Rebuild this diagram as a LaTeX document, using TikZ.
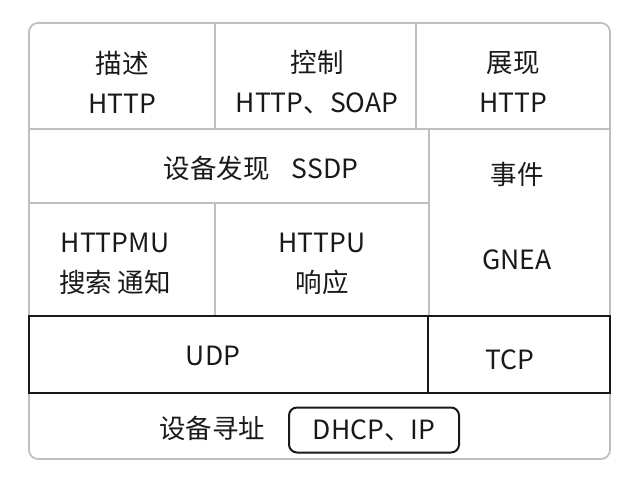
\documentclass[tikz,border=0pt]{standalone}
\usepackage{fontspec}
\setmainfont{Noto Sans CJK SC}
\begin{document}
\begin{tikzpicture}[x=1pt,y=-1pt,
  grayline/.style={draw=black!25,line width=1.8pt},
  blackline/.style={draw=black!90,line width=2.2pt},
  lbl/.style={font=\fontsize{26.5}{40}\selectfont,text=black!90,align=center,inner sep=0pt}]
\useasboundingbox (0,0) rectangle (628,477);
% outer gray frame and grid
\draw[grayline,rounded corners=9pt] (29,23) rectangle (610,459);
\draw[grayline] (29,129) -- (610,129);
\draw[grayline] (215,23) -- (215,129);
\draw[grayline] (416,23) -- (416,129);
\draw[grayline] (29,203) -- (429,203);
\draw[grayline] (429,129) -- (429,316);
\draw[grayline] (215,203) -- (215,316);
% UDP / TCP black box
\draw[blackline] (29,316) rectangle (610,393);
\draw[blackline] (428,316) -- (428,393);
% texts
\node[lbl] (desc) at (122,82) {描述\\HTTP};
\node[lbl] (ctrl) at (317,82) {控制\\HTTP、SOAP};
\node[lbl] (pres) at (513,82) {展现\\HTTP};
\node[lbl] (disc) at (261,168) {设备发现\hspace{22pt}SSDP};
\node[lbl] (evt) at (517,174) {事件};
\node[lbl] (gnea) at (517,260) {GNEA};
\node[lbl] (mu) at (115,264) {HTTPMU\\搜索 通知};
\node[lbl] (hu) at (322,264) {HTTPU\\响应};
\node[lbl] (udp) at (213,356) {UDP};
\node[lbl] (tcp) at (510,360) {TCP};
\node[lbl] (addr) at (212,428) {设备寻址};
\node[lbl,draw=black!90,line width=2pt,rounded corners=8pt,minimum width=170pt,minimum height=45pt] (dhcp) at (374,430) {DHCP、IP};
\end{tikzpicture}
\end{document}
